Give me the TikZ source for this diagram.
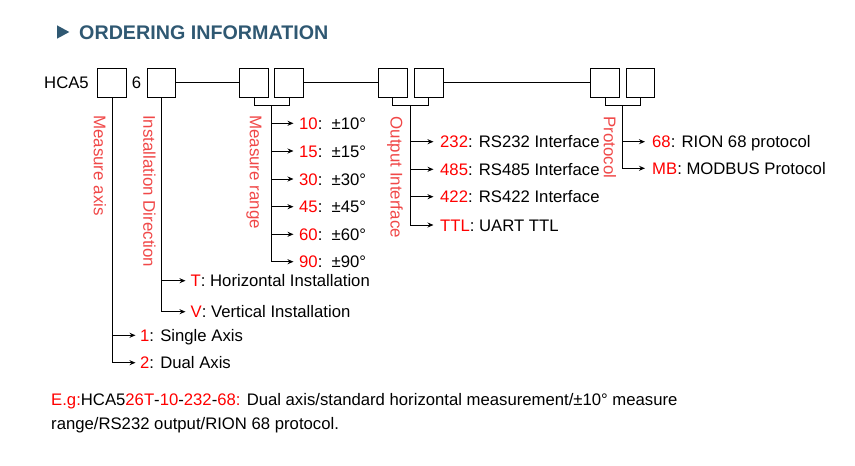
\documentclass[tikz,border=0pt]{standalone}
\usepackage{fontspec}
\setmainfont{Liberation Sans}
\usetikzlibrary{arrows.meta}
\definecolor{titleblue}{RGB}{47,88,114}
\definecolor{codered}{RGB}{255,0,0}
\definecolor{labelred}{RGB}{240,72,72}
\begin{document}
\begin{tikzpicture}[x=1pt,y=-1pt,
  box/.style={draw,line width=1pt,minimum width=28.5pt,minimum height=29pt,inner sep=0},
  txt/.style={font=\fontsize{16.7}{19}\selectfont,inner sep=0,text height=12.1pt,text depth=0pt,anchor=west},
  vlabel/.style={txt,text=labelred,rotate=-90,font=\fontsize{16.9}{19}\selectfont},
  conn/.style={line width=1pt},
  arr/.style={conn,-{Stealth[length=6pt,width=5pt]}},
]
\useasboundingbox (0,0) rectangle (855,466);
% title
\fill[titleblue] (57,25.3) -- (69.3,32) -- (57,38.7) -- cycle;
\node[anchor=west,inner sep=0,text=titleblue,font=\fontsize{19.7}{22}\selectfont\bfseries,text height=14.4pt,text depth=0pt] (title) at (79,32) {ORDERING INFORMATION};
% code row
\node[txt] (hca) at (44,82.5) {HCA5};
\node[box] (b1) at (112,82.5) {};
\node[txt,anchor=center] (six) at (136.5,82.5) {6};
\node[box] (b2) at (161.7,82.5) {};
\node[box] (b3) at (254,82.5) {};
\node[box] (b4) at (289,82.5) {};
\node[box] (b5) at (392.8,82.5) {};
\node[box] (b6) at (428.8,82.5) {};
\node[box] (b7) at (605,82.5) {};
\node[box] (b8) at (640.7,82.5) {};
\draw[conn] (b2.east) -- (b3.west);
\draw[conn] (b4.east) -- (b5.west);
\draw[conn] (b6.east) -- (b7.west);
% brackets
\draw[conn] (b3.south) -- ++(0,8) -| (b4.south);
\draw[conn] (b5.south) -- ++(0,8) -| (b6.south);
\draw[conn] (b7.south) -- ++(0,8) -| (b8.south);
\coordinate (s34) at (271.5,105.5);
\coordinate (s56) at (410.8,105.5);
\coordinate (s78) at (622.8,105.5);
% vertical labels
\node[vlabel] (lab1) at (100,115) {Measure axis};
\node[vlabel] (lab2) at (149.3,115) {Installation Direction};
\node[vlabel] (lab3) at (256,115) {Measure range};
\node[vlabel] (lab4) at (396.7,116.5) {Output Interface};
\node[vlabel] (lab5) at (609.8,116) {Protocol};
% measure axis items
\node[txt] (ax1) at (140,335.3) {\textcolor{codered}{1}: Single Axis};
\node[txt] (ax2) at (140,362.7) {\textcolor{codered}{2}: Dual Axis};
\draw[arr] (b1.south) |- ([xshift=-4.5pt]ax2.west);
\draw[arr] (b1.south |- ax1.west) -- ([xshift=-4.5pt]ax1.west);
% installation items
\node[txt] (in1) at (190.5,280.7) {\textcolor{codered}{T}: Horizontal Installation};
\node[txt] (in2) at (190.5,311.7) {\textcolor{codered}{V}: Vertical Installation};
\draw[arr] (b2.south) |- ([xshift=-5pt]in2.west);
\draw[arr] (b2.south |- in1.west) -- ([xshift=-5pt]in1.west);
% measure range items
\node[txt] (r10) at (299,123.3) {\textcolor{codered}{10}:\ \ ±10°};
\node[txt] (r15) at (299,151) {\textcolor{codered}{15}:\ \ ±15°};
\node[txt] (r30) at (299,179) {\textcolor{codered}{30}:\ \ ±30°};
\node[txt] (r45) at (299,206.7) {\textcolor{codered}{45}:\ \ ±45°};
\node[txt] (r60) at (299,234.3) {\textcolor{codered}{60}:\ \ ±60°};
\node[txt] (r90) at (299,261.7) {\textcolor{codered}{90}:\ \ ±90°};
\draw[arr] (s34) |- ([xshift=-5.5pt]r90.west);
\foreach \n in {r10,r15,r30,r45,r60}
  \draw[arr] (s34 |- \n.west) -- ([xshift=-5.5pt]\n.west);
% output items
\node[txt] (o1) at (440,141.7) {\textcolor{codered}{232}: RS232 Interface};
\node[txt] (o2) at (440,169.3) {\textcolor{codered}{485}: RS485 Interface};
\node[txt] (o3) at (440,196.7) {\textcolor{codered}{422}: RS422 Interface};
\node[txt] (o4) at (440,225) {\textcolor{codered}{TTL}: UART TTL};
\draw[arr] (s56) |- ([xshift=-6.5pt]o4.west);
\foreach \n in {o1,o2,o3}
  \draw[arr] (s56 |- \n.west) -- ([xshift=-6.5pt]\n.west);
% protocol items
\node[txt] (p1) at (652,141.7) {\textcolor{codered}{68}: RION 68 protocol};
\node[txt] (p2) at (652,168.3) {\textcolor{codered}{MB}: MODBUS Protocol};
\draw[arr] (s78) |- ([xshift=-7pt]p2.west);
\draw[arr] (s78 |- p1.west) -- ([xshift=-7pt]p1.west);
% example
\node[txt] (eg1) at (51,399.5) {\textcolor{codered}{E.g:}HCA5\textcolor{codered}{26T}-\textcolor{codered}{10}-\textcolor{codered}{232}-\textcolor{codered}{68:} Dual axis/standard horizontal measurement/±10° measure};
\node[txt] (eg2) at (51,423.5) {range/RS232 output/RION 68 protocol.};
\end{tikzpicture}
\end{document}
